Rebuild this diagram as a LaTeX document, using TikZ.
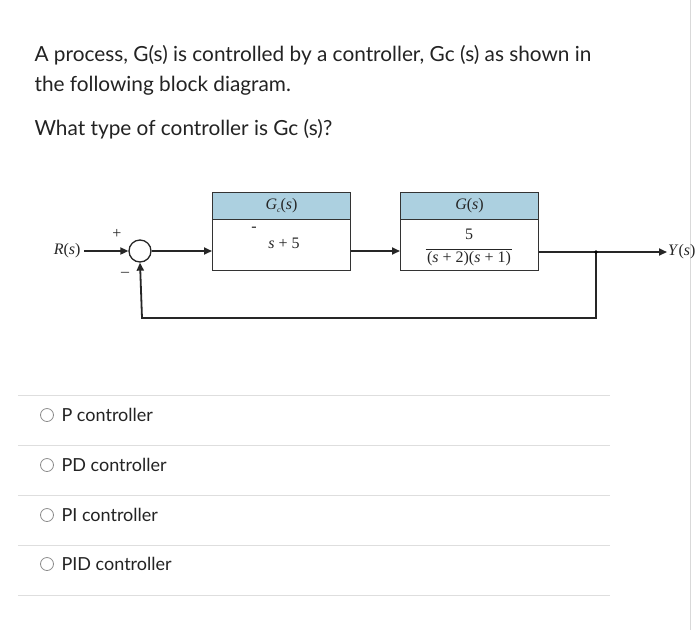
\documentclass[tikz,border=0pt]{standalone}
\usepackage{fontspec}
\setmainfont{Lato}
\newfontfamily\serifx{Liberation Serif}
\usetikzlibrary{arrows.meta}
\definecolor{hdr}{RGB}{172,208,224}
\definecolor{sep}{RGB}{222,222,222}
\definecolor{txt}{RGB}{35,35,35}
\newcommand{\iv}[1]{\textit{#1}}
\begin{document}
\begin{tikzpicture}[x=1pt,y=-1pt,
  wire/.style={line width=1.8pt,draw=black!85},
  arr/.style={wire,-{Triangle[length=8pt,width=7pt]}},
  blk/.style={draw=black!80,line width=1pt,fill=white,minimum width=138pt,minimum height=78pt,anchor=north west,inner sep=0pt},
  head/.style={draw=black!80,line width=1pt,fill=hdr,minimum width=138pt,minimum height=27pt,anchor=north west,inner sep=0pt},
  dtext/.style={font=\serifx\fontsize{16}{18}\selectfont,text=black!85},
  q/.style={font=\fontsize{20.8}{24}\selectfont,text=txt,anchor=west},
  opt/.style={font=\fontsize{18}{21}\selectfont,text=txt,anchor=west},
  radio/.style={circle,draw=black!45,line width=0.8pt,minimum size=13pt,inner sep=0pt}]
\useasboundingbox (0,0) rectangle (700,630);
\fill[white] (0,0) rectangle (700,630);
\draw[black!15,line width=1pt] (690,0) -- (690,630);
\node[q] (t1) at (31,55) {A process, G(s) is controlled by a controller, Gc (s) as shown in};
\node[q] (t2) at (31,86) {the following block diagram.};
\node[q] (t3) at (31,129) {What type of controller is Gc (s)?};
% blocks
\node[blk] (gc) at (212,192) {};
\node[head] (gch) at (212,192) {};
\node[dtext] (gct) at (gch.center) {\iv{G}\raisebox{-0.3ex}{\iv{\footnotesize c}}(\iv{s})};
\node[dtext] (gcb) at (284,243) {\iv{s} + 5};
\node[dtext] (gcm) at (254,229) {-};
\node[blk] (g) at (400,192) {};
\node[head] (gh) at (400,192) {};
\node[dtext] (gt) at (gh.center) {\iv{G}(\iv{s})};
\node[dtext] (gn) at (469,234) {5};
\node[dtext] (gd) at (469,259) {(\iv{s} + 2)(\iv{s} + 1)};
\draw[black!85,line width=0.8pt] ([xshift=2pt,yshift=-1pt]gd.north west) -- ([xshift=-2pt,yshift=-1pt]gd.north east);
\node[circle,draw=black!85,line width=1.3pt,minimum size=22pt,inner sep=0pt] (sum) at (140,251) {};
\node[dtext,anchor=east] (R) at (84,251) {\iv{R}(\iv{s})};
\node[dtext,anchor=west,inner sep=1pt] (Y) at (667,252) {\iv{Y}(\iv{s})};
\node[dtext] (plus) at (117,234) {+};
\node[dtext] (minus) at (125,274) {–};
\coordinate (br) at (596,252);
\coordinate (fb) at (596,318);
\coordinate (fb2) at (142,318);
\draw[arr] (R) -- (sum);
\draw[arr] (sum) -- (gc.west |- sum);
\draw[arr] (gc.east |- sum) -- (g.west |- sum);
\draw[arr] (g.east |- br) -- (Y);
\draw[arr] (br) -- (fb) -- (fb2) -- (sum.south);
\fill[black] (br) circle (1.9pt);
% separators
\foreach \yy in {395,445,495,545,595} \draw[sep,line width=0.8pt] (18,\yy) -- (610,\yy);
\node[radio] (r1) at (47,415) {};
\node[opt] (o1) at (58,415) {P controller};
\node[radio] (r2) at (47,465) {};
\node[opt] (o2) at (58,465) {PD controller};
\node[radio] (r3) at (47,515) {};
\node[opt] (o3) at (58,515) {PI controller};
\node[radio] (r4) at (47,564) {};
\node[opt] (o4) at (58,564) {PID controller};
\end{tikzpicture}
\end{document}
